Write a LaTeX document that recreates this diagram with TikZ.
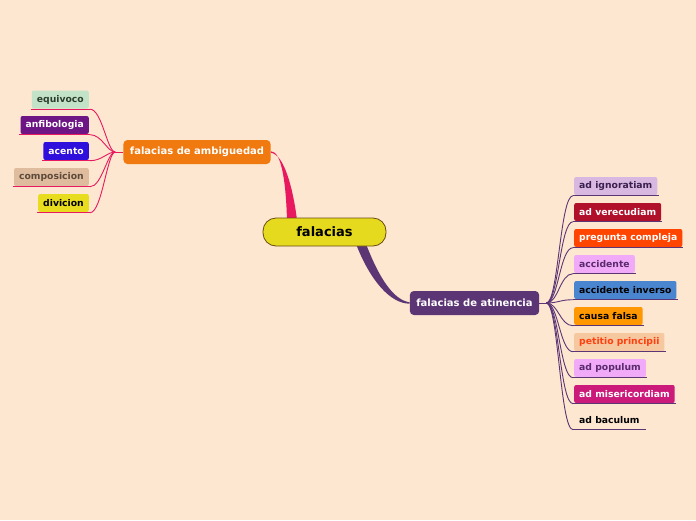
\documentclass[tikz,border=0pt]{standalone}
\usepackage{fontspec}
\setmainfont{DejaVu Sans}
\usetikzlibrary{calc}
\definecolor{bg}{HTML}{FDE7D0}
\definecolor{rootfill}{HTML}{E6DA1E}
\definecolor{rootdraw}{HTML}{6B4A12}
\definecolor{ambc}{HTML}{F07A10}
\definecolor{atinc}{HTML}{5C3575}
\definecolor{pinkc}{HTML}{E8195E}
\definecolor{purc}{HTML}{5C3575}
\definecolor{fEqu}{HTML}{C3E3C8}\definecolor{tEqu}{HTML}{2C3E2C}
\definecolor{fAnf}{HTML}{6E1585}
\definecolor{fAce}{HTML}{2F0FDC}
\definecolor{fCom}{HTML}{E0BC9E}\definecolor{tCom}{HTML}{5C4B3B}
\definecolor{fDiv}{HTML}{E8DC1E}
\definecolor{fIgn}{HTML}{D8B8E0}\definecolor{tIgn}{HTML}{3B1F4F}
\definecolor{fVer}{HTML}{B0102A}
\definecolor{fPre}{HTML}{FF4500}
\definecolor{fAcc}{HTML}{F0AAF8}\definecolor{tAcc}{HTML}{5B2A6E}
\definecolor{fInv}{HTML}{4A86D0}
\definecolor{fCau}{HTML}{FF9800}
\definecolor{fPet}{HTML}{F5C8A0}\definecolor{tPet}{HTML}{FF4010}
\definecolor{fMis}{HTML}{CC1A7A}
\begin{document}
\begin{tikzpicture}[x=1pt,y=-1pt,
  leaf/.style={rounded corners=2pt, minimum height=18pt, inner xsep=5pt, inner ysep=0pt,
    font=\fontsize{9.25}{10}\selectfont\bfseries},
  branch/.style={rounded corners=4pt, minimum height=24pt, inner xsep=6.5pt, inner ysep=0pt,
    font=\fontsize{10}{12}\selectfont\bfseries, text=white},
  lcon/.style={draw=pinkc, line width=0.9pt},
  rcon/.style={draw=purc, line width=0.9pt}]
\fill[bg] (0,0) rectangle (696,520);
\useasboundingbox (0,0) rectangle (696,520);

\node[branch, fill=ambc] (amb) at (197,152) {falacias de ambiguedad};
\node[branch, fill=atinc] (atin) at (474.5,303) {falacias de atinencia};
\path (324.5,232) coordinate (rootc);

% main tapered connectors
\fill[pinkc] ($(amb.east)+(0,-0.8)$) .. controls (282,151) and (286,185) .. (287,220)
  -- (297,220) .. controls (293,188) and (284,154) .. ($(amb.east)+(0,0.8)$) -- cycle;
\fill[purc] (356,244) .. controls (370,280) and (390,303.6) .. ($(atin.west)+(0,0.7)$)
  -- ($(atin.west)+(0,-0.7)$) .. controls (394,300) and (380,280) .. (366,244) -- cycle;

\node[draw=rootdraw, fill=rootfill, rounded corners=13pt, line width=0.8pt,
  minimum width=123pt, minimum height=28pt, inner sep=0pt,
  font=\fontsize{13}{15}\selectfont\bfseries] (root) at (rootc) {falacias};

% left leaves
\coordinate (lj) at ($(amb.west)+(-8,0)$);
\draw[lcon] (amb.west) -- (lj);
\foreach \n/\t/\f/\c/\yy in {equ/equivoco/fEqu/tEqu/99.5, anf/anfibologia/fAnf/white/125,
  ace/acento/fAce/white/151, com/composicion/fCom/tCom/177, dvc/divicion/fDiv/black/203}{
  \node[leaf, fill=\f, text=\c, anchor=east] (\n) at (89,\yy) {\t};
  \draw[lcon] ($(\n.south east)+(1,0.5)$) -- ($(\n.south west)+(-1,0.5)$);
  \draw[lcon] (lj) .. controls ($(lj)+(-8,0)$) and ($(\n.south east)+(13,0.5)$) .. ($(\n.south east)+(1,0.5)$);
}

% right leaves
\coordinate (rj) at ($(atin.east)+(7,0)$);
\draw[rcon] (atin.east) -- (rj);
\foreach \n/\t/\f/\c/\yy in {ign/ad ignoratiam/fIgn/tIgn/186, ver/ad verecudiam/fVer/white/212,
  pre/pregunta compleja/fPre/white/238, acc/accidente/fAcc/tAcc/264,
  inv/accidente inverso/fInv/black/290, cau/causa falsa/fCau/black/316,
  pet/petitio principii/fPet/tPet/342, pop/ad populum/fAcc/tAcc/368,
  mis/ad misericordiam/fMis/white/394, bac/ad baculum/none/black/420}{
  \node[leaf, fill=\f, text=\c, anchor=west] (\n) at (574,\yy) {\t};
  \draw[rcon] ($(\n.south west)+(-1,0.5)$) -- ($(\n.south east)+(1,0.5)$);
  \draw[rcon] (rj) .. controls ($(rj)+(12,0)$) and ($(\n.south west)+(-14,0.5)$) .. ($(\n.south west)+(-1,0.5)$);
}
\end{tikzpicture}
\end{document}
